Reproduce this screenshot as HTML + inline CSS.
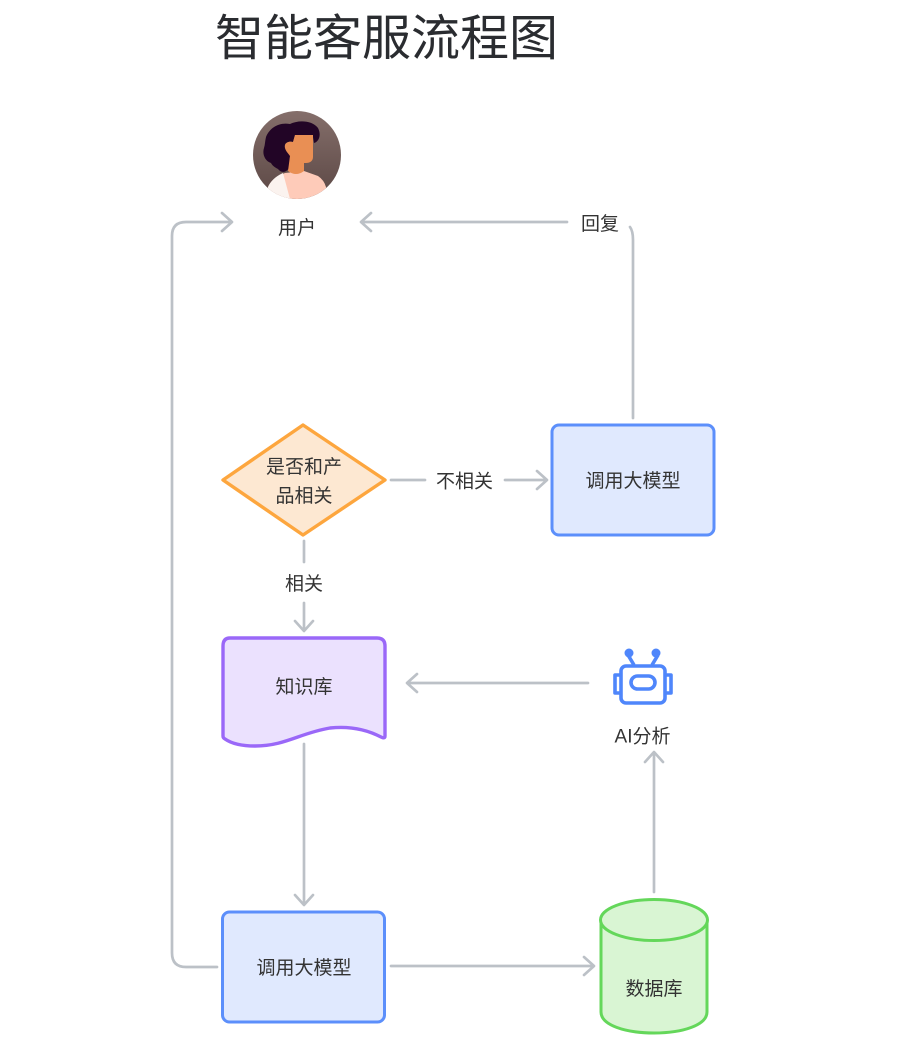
<!DOCTYPE html>
<html><head><meta charset="utf-8">
<style>
html,body{margin:0;padding:0;background:#fff;width:910px;height:1060px;overflow:hidden}
svg{display:block}
text{font-family:"Liberation Sans","WenQuanYi Zen Hei","Noto Sans CJK SC",sans-serif;fill:#333;text-anchor:middle;font-size:19px}
.c{fill:none;stroke:#bcc1c7;stroke-width:2.7;stroke-linecap:round;stroke-linejoin:round}
</style></head><body>
<svg width="910" height="1060" viewBox="0 0 910 1060">
<defs>
<linearGradient id="bg" x1="0" y1="0" x2="0" y2="1"><stop offset="0" stop-color="#86706c"/><stop offset="1" stop-color="#5a4643"/></linearGradient>
<clipPath id="cc"><circle cx="297" cy="155" r="44"/></clipPath>
</defs>
<text x="386.500" y="55" style="font-size:49px;fill:#2a2c30">智能客服流程图</text>

<g clip-path="url(#cc)">
<rect x="250" y="108" width="95" height="95" fill="url(#bg)"/>
<path d="M268 187 Q272 178 285 173 L304 171 L318 176 Q324 180 326 187 L326 200 H268 Z" fill="#fecbb9"/>
<path d="M268 187 Q272 178 283 173 L290 199 L268 199 Z" fill="#fbf3ef"/>
<path d="M266 137 C270 127 280 122 290 124 C298 120 312 120 318 128 C322 136 318 142 314 143 L313 137 C305 135 300 135 295 135 L293 142 C288 141 284 143 285 147 C286 151 289 153 290 156 L289 168 C286 173 281 173 278 169 C274 167 272 165 271 163 C265 161 262 154 264 148 C265 145 265 141 266 137 Z" fill="#220526"/>
<path d="M295 135 H313 V157 C313 161 310 163 306 163 H304 V171 Q296 177 288 171 L290 156 C287 152 284 149 285 145 C286 142 290 141 293 142 Z" fill="#e98f54"/>
</g>
<text x="297" y="234">用户</text>

<path class="c" d="M217 967 H186 Q172 967 172 953 V236 Q172 222 186 222 H231"/>
<path class="c" d="M222 213 L232 222 L222 231"/>
<path class="c" d="M633 418 V240 Q633 231 630 227"/>
<path class="c" d="M567 222 H362"/>
<path class="c" d="M371 213 L361 222 L371 231"/>
<text x="600" y="230">回复</text>

<path d="M303 425 L385 480 L303 535 L223 480 Z" fill="#fde8d2" stroke="#fda63e" stroke-width="3.400" stroke-linejoin="round"/>
<text x="304" y="473">是否和产</text>
<text x="304" y="502">品相关</text>

<path class="c" d="M391 480 H425"/>
<path class="c" d="M505 480 H546"/>
<path class="c" d="M537 471 L547 480 L537 489"/>
<text x="464.500" y="487.500">不相关</text>

<rect x="552" y="425" width="162" height="110" rx="7" fill="#e0e9fe" stroke="#5c8ffb" stroke-width="3"/>
<text x="633" y="487">调用大模型</text>

<path class="c" d="M304 541 V562"/>
<path class="c" d="M304 603 V630"/>
<path class="c" d="M295 621 L304 631 L313 621"/>
<text x="304" y="590">相关</text>

<path d="M230 638 H377 Q385 638 385 646 V736 Q385 739 381 737 Q358 725 330 728 C300 733 285 746 255 746 Q235 746 225 739 Q223 738 223 736 V646 Q223 638 230 638 Z" fill="#ebe1fe" stroke="#9a68f8" stroke-width="3.400" stroke-linejoin="round"/>
<text x="304" y="693">知识库</text>

<path class="c" d="M588 683 H408"/>
<path class="c" d="M417 674 L407 683 L417 692"/>

<g fill="none" stroke="#4f86fb" stroke-width="3.600" stroke-linejoin="round">
<rect x="621" y="666" width="44" height="37" rx="5"/>
<rect x="631" y="676" width="24" height="13" rx="6.5"/>
<path d="M621 675 H615 V693 H621"/>
<path d="M665 675 H671 V693 H665"/>
<path d="M634 665 L628 655"/>
<path d="M652 665 L658 655"/>
</g>
<circle cx="629" cy="653" r="4.500" fill="#4f86fb"/>
<circle cx="656" cy="653" r="4.500" fill="#4f86fb"/>
<text x="642.500" y="742.500">AI分析</text>

<path class="c" d="M304 744 V904"/>
<path class="c" d="M295 895 L304 905 L313 895"/>

<rect x="222.500" y="912" width="162" height="110" rx="7" fill="#e0e9fe" stroke="#5c8ffb" stroke-width="3"/>
<text x="304" y="974">调用大模型</text>

<path class="c" d="M391 966 H593"/>
<path class="c" d="M584 957 L594 966 L584 975"/>

<path class="c" d="M654 892 V753"/>
<path class="c" d="M645 762 L654 752 L663 762"/>

<path d="M601 920 V1012 C601 1025 625 1033 654 1033 C683 1033 707 1025 707 1012 V920 Z" fill="#d9f5d3" stroke="#64d75a" stroke-width="3"/>
<ellipse cx="654" cy="920" rx="53.500" ry="20.500" fill="#d9f5d3" stroke="#64d75a" stroke-width="3"/>
<text x="654" y="995">数据库</text>
</svg>
</body></html>
